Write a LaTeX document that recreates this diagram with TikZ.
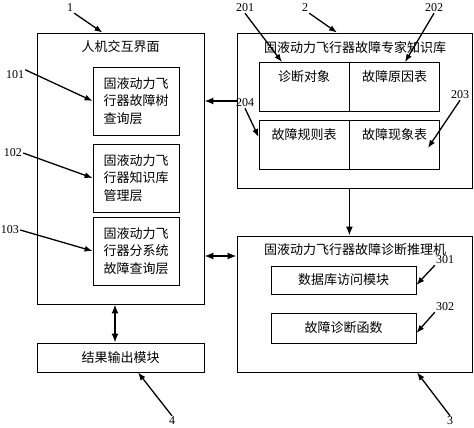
\documentclass[tikz,border=0pt]{standalone}
\usepackage{fontspec}
\setmainfont{Liberation Serif}
\newfontfamily\cjk{Noto Sans CJK SC}
\usetikzlibrary{positioning,arrows.meta}
\tikzset{
  frame/.style={draw, line width=0.8pt, inner sep=0pt},
  zh/.style={font=\cjk\fontsize{13}{17.5}\selectfont},
  num/.style={font=\fontsize{12}{12}\selectfont, inner sep=1pt},
  bigtip/.tip={Latex[length=9pt,width=7pt]},
  smalltip/.tip={Latex[length=8pt,width=6pt]},
  link/.style={line width=1.6pt, -bigtip},
  twoway/.style={line width=1.6pt, bigtip-bigtip},
  callout/.style={line width=1.3pt, -smalltip},
  cell/.style={frame, minimum width=90, minimum height=49},
  intitle/.style={zh, anchor=north, inner sep=8pt},
}
\begin{document}
\begin{tikzpicture}[x=1pt,y=-1pt]
	\useasboundingbox (0,0) rectangle (474,428);
	% human-machine interface
	\node[frame, minimum width=167, minimum height=271] (ui) at (120.5,168.5) {};
	\node[zh] (uititle) at (120.5,47) {人机交互界面};
	\node[frame, zh, align=left, minimum width=86, minimum height=68] (tree) at (136,101) {固液动力飞\\行器故障树\\查询层};
	\node[frame, zh, align=left, minimum width=86, minimum height=68] (kbman) at (136,178) {固液动力飞\\行器知识库\\管理层};
	\node[frame, zh, align=left, minimum width=86, minimum height=68] (subsys) at (136,251) {固液动力飞\\行器分系统\\故障查询层};
	\node[frame, zh, minimum width=167, minimum height=29] (out) at (120.5,357.5) {结果输出模块};
	% knowledge base
	\node[frame, minimum width=235, minimum height=155] (kb) at (354.5,110.5) {};
	\node[zh] (kbtitle) at (355,48) {固液动力飞行器故障专家知识库};
	\node[cell, label={[intitle]north:诊断对象}] (obj) at (304,87) {};
	\node[cell, label={[intitle]north:故障原因表}] (cause) at (394.5,87) {};
	\node[cell, label={[intitle]north:故障规则表}] (rule) at (304,145) {};
	\node[cell, label={[intitle]north:故障现象表}] (sym) at (394.5,145) {};
	% inference engine
	\node[frame, minimum width=235, minimum height=136] (infer) at (354.5,304) {};
	\node[zh] (infertitle) at (355,250) {固液动力飞行器故障诊断推理机};
	\node[frame, zh, minimum width=145, minimum height=28] (dbmod) at (343.5,280) {数据库访问模块};
	\node[frame, zh, minimum width=145, minimum height=30] (diagfn) at (343.5,328) {故障诊断函数};
	% links between modules
	\coordinate (mid) at (220,256);
	\draw[link] (kb.west |- tree) -- (ui.east |- tree);
	\draw[twoway] (ui.east |- mid) -- (infer.west |- mid);
	\draw[link] (obj.east |- kb.south) -- (obj.east |- infer.north);
	\draw[twoway] ([xshift=-5.5]ui.south) -- ([xshift=-5.5]out.north);
	% reference numerals
	\node[num] (n1) at (70,8) {1};
	\node[num] (n2) at (305,8) {2};
	\node[num] (n201) at (245,8) {201};
	\node[num] (n202) at (434,8) {202};
	\node[num] (n203) at (460,95) {203};
	\node[num] (n204) at (245,103) {204};
	\node[num] (n101) at (15,75) {101};
	\node[num] (n102) at (13,153) {102};
	\node[num] (n103) at (10,230) {103};
	\node[num] (n301) at (445,260) {301};
	\node[num] (n302) at (445,307) {302};
	\node[num] (n4) at (172,421) {4};
	\node[num] (n3) at (450,421) {3};
	\draw[callout] (n1.south east) -- ([xshift=-18]ui.north);
	\draw[callout] (n2.south east) -- ([xshift=-17.5]kb.north);
	\draw[callout] (n201.south) -- ([xshift=-22]obj.north);
	\draw[callout] (n202.south) -- ([xshift=10.5]cause.north);
	\draw[callout] (n203.south) -- ([xshift=-12,yshift=-3]sym.east);
	\draw[callout] (n204.south) -- ([yshift=8]rule.west);
	\draw[callout] (n101.north east) -- (tree.west);
	\draw[callout] (n102.east) -- (kbman.west);
	\draw[callout] (n103.east) -- (subsys.west);
	\draw[callout] (n301.south west) -- ([yshift=-5]dbmod.east);
	\draw[callout] (n302.south west) -- ([yshift=-5]diagfn.east);
	\draw[callout] (n4.north) -- ([xshift=17.5]out.south);
	\draw[callout] (n3.north) -- ([xshift=62.5]infer.south);
\end{tikzpicture}
\end{document}
